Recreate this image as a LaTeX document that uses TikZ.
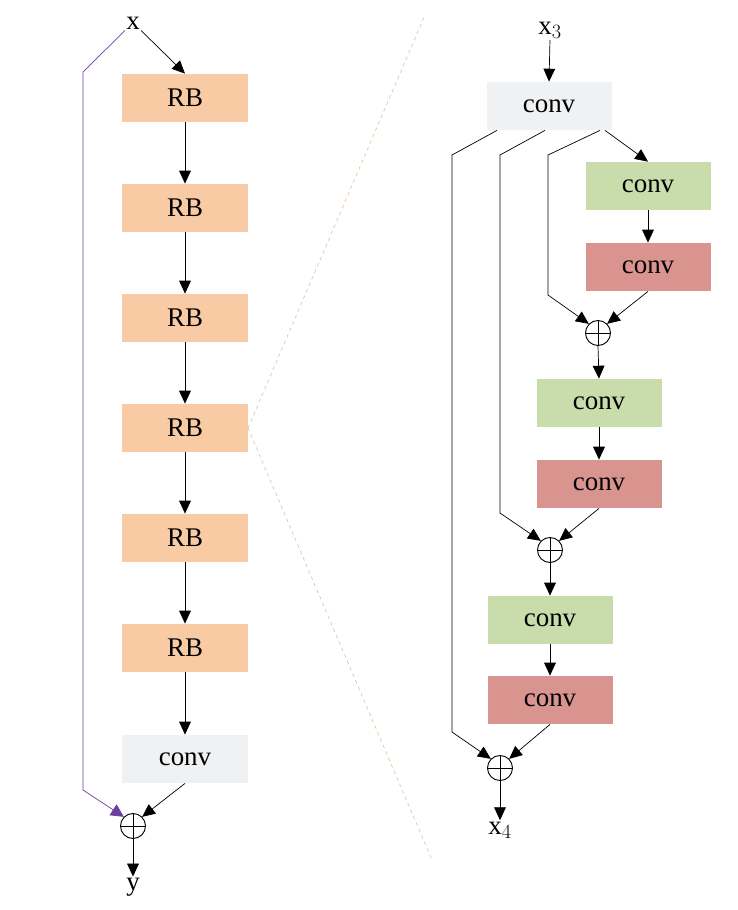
\documentclass[tikz,border=0pt]{standalone}
\usepackage{fontspec}
\setmainfont{Liberation Serif}
\usetikzlibrary{arrows.meta,calc}
\definecolor{rbc}{HTML}{F8CBA4}
\definecolor{gc}{HTML}{C9DCAB}
\definecolor{rc}{HTML}{D99490}
\definecolor{cc}{HTML}{F0F1F3}
\definecolor{pc}{HTML}{6B3FA0}
\definecolor{dc}{HTML}{E8B890}
\begin{document}
\begin{tikzpicture}[x=0.03cm,y=-0.03cm,
 box/.style={rectangle,minimum width=3.75cm,minimum height=1.45cm,inner sep=0,font=\fontsize{23}{25}\selectfont},
 rb/.style={box,fill=rbc},
 gr/.style={box,fill=gc},
 rd/.style={box,fill=rc},
 cv/.style={box,fill=cc},
 plus/.style={circle,draw,thick,minimum size=0.75cm,inner sep=0,path picture={\draw[thick] (path picture bounding box.north)--(path picture bounding box.south)(path picture bounding box.west)--(path picture bounding box.east);}},
 lab/.style={font=\fontsize{23}{25}\selectfont,inner sep=1pt},
 ar/.style={-{Triangle[length=11pt,width=10pt]},line width=0.6pt},
 ln/.style={line width=0.6pt}]
\useasboundingbox (0,0) rectangle (738,910);
% left
\node[lab] (x) at (133,23) {x};
\foreach \i/\yy in {1/98,2/208,3/318,4/428,5/538,6/648}{\node[rb] (rb\i) at (185,\yy) {RB};}
\node[cv] (lc) at (185,759) {conv};
\node[plus] (lp) at (133,826) {};
\node[lab] (y) at (133,887) {y};
\draw[ar] (x.south east) -- (rb1.north);
\foreach \a/\b in {1/2,2/3,3/4,4/5,5/6}{\draw[ar] (rb\a.south) -- (rb\b.north);}
\draw[ar] (rb6.south) -- (lc.north);
\draw[ar] (lc.south) -- (lp.north east);
\draw[ar] (lp.south) -- (y.north);
\draw[pc,line width=0.6pt,-{Triangle[length=11pt,width=11pt]}] (x.south west) -- (83,72) -- (83,790) -- (lp.north west);
\coordinate (d0) at (248,428);
\draw[dc,dashed,line width=0.5pt] (d0) -- (425,15);
\draw[dc,dashed,line width=0.5pt] (d0) -- (432,860);
% right
\node[lab] (x3) at (550,30) {x$_3$};
\node[cv] (c0) at (549,106) {conv};
\node[gr] (g1) at (648,186) {conv};
\node[rd] (r1) at (648,267) {conv};
\node[plus] (p1) at (598,333) {};
\node[gr] (g2) at (599,403) {conv};
\node[rd] (r2) at (599,484) {conv};
\node[plus] (p2) at (550,550) {};
\node[gr] (g3) at (550,620) {conv};
\node[rd] (r3) at (550,700) {conv};
\node[plus] (p3) at (500,768) {};
\node[lab] (x4) at (500,830) {x$_4$};
\draw[ar] (x3.south) -- (c0.north);
\draw[ar] ($(c0.south)+(56,0)$) -- (g1.north);
\draw[ar] (g1.south) -- (r1.north);
\draw[ar] (r1.south) -- (p1.north east);
\draw[ar] ($(c0.south)+(51,0)$) -- (548,155) -- (548,295) -- (p1.north west);
\draw[ar] (p1.south) -- (g2.north);
\draw[ar] (g2.south) -- (r2.north);
\draw[ar] (r2.south) -- (p2.north east);
\draw[ar] ($(c0.south)+(-4,0)$) -- (500,155) -- (500,513) -- (p2.north west);
\draw[ar] (p2.south) -- (g3.north);
\draw[ar] (g3.south) -- (r3.north);
\draw[ar] (r3.south) -- (p3.north east);
\draw[ar] ($(c0.south)+(-52,0)$) -- (452,155) -- (452,732) -- (p3.north west);
\draw[ar] (p3.south) -- (x4.north);
\end{tikzpicture}
\end{document}
